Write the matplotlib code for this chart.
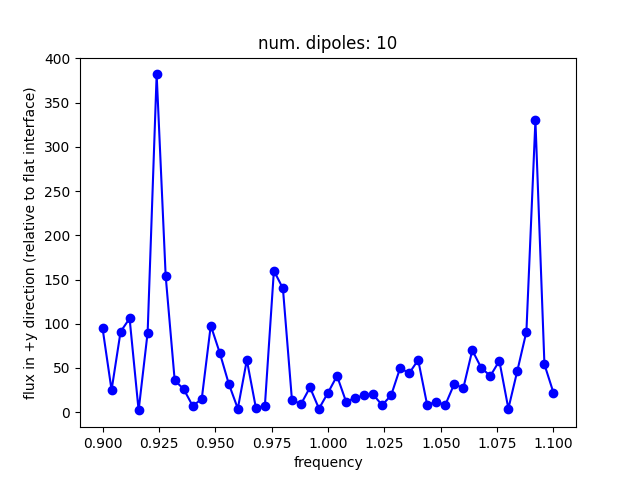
import numpy as np
import matplotlib
matplotlib.use("Agg")
from matplotlib import pyplot as plt

# frequencias de 0.900 a 1.100, passo 0.004
freqs = [0.900 + 0.004 * i for i in range(51)]

flux = [95, 25, 91, 106, 2, 90, 382, 154, 36, 26,
        7, 15, 98, 67, 32, 4, 59, 5, 7, 160,
        140, 14, 9, 28, 4, 22, 41, 12, 16, 19,
        20, 8, 19, 50, 44, 59, 8, 12, 8, 32,
        27, 70, 50, 41, 58, 4, 47, 91, 330, 54,
        22]

plt.figure(figsize=(6.4, 4.8), dpi=100)
plt.plot(freqs, flux, "bo-")
plt.xlabel("frequency")
plt.ylabel("flux in +y direction (relative to flat interface)")
plt.title("num. dipoles: 10")
plt.savefig("out.png")
